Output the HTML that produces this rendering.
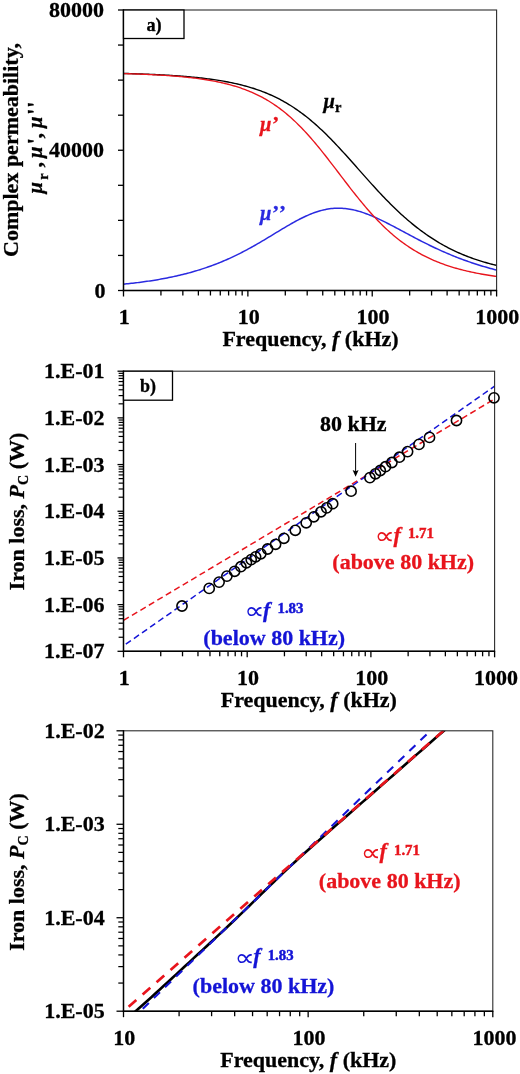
<!DOCTYPE html>
<html lang="en"><head><meta charset="utf-8"><title>Complex permeability and iron loss</title>
<style>
html,body{margin:0;padding:0;background:#fff;}
body{width:520px;height:1074px;overflow:hidden;}
svg{display:block;}
svg text{font-family:"Liberation Serif", "DejaVu Serif", serif;font-weight:bold;}
.it{font-style:italic;}
</style></head><body>
<svg width="520" height="1074" viewBox="0 0 520 1074">
<rect x="0" y="0" width="520" height="1074" fill="#fff"/>
<g id="plot-a">
<path d="M123.50 73.44 L125.06 73.49 L126.62 73.53 L128.18 73.57 L129.74 73.62 L131.31 73.67 L132.87 73.71 L134.43 73.76 L135.99 73.82 L137.55 73.87 L139.11 73.92 L140.67 73.98 L142.23 74.04 L143.79 74.09 L145.36 74.16 L146.92 74.22 L148.48 74.28 L150.04 74.35 L151.60 74.42 L153.16 74.49 L154.72 74.56 L156.28 74.63 L157.84 74.71 L159.41 74.79 L160.97 74.87 L162.53 74.95 L164.09 75.03 L165.65 75.12 L167.21 75.21 L168.77 75.31 L170.33 75.40 L171.89 75.50 L173.45 75.60 L175.02 75.71 L176.58 75.82 L178.14 75.93 L179.70 76.04 L181.26 76.16 L182.82 76.28 L184.38 76.41 L185.94 76.54 L187.50 76.67 L189.07 76.81 L190.63 76.95 L192.19 77.09 L193.75 77.24 L195.31 77.40 L196.87 77.56 L198.43 77.72 L199.99 77.89 L201.55 78.07 L203.12 78.25 L204.68 78.43 L206.24 78.63 L207.80 78.82 L209.36 79.03 L210.92 79.24 L212.48 79.46 L214.04 79.68 L215.60 79.91 L217.17 80.15 L218.73 80.39 L220.29 80.65 L221.85 80.91 L223.41 81.18 L224.97 81.46 L226.53 81.75 L228.09 82.04 L229.65 82.35 L231.22 82.66 L232.78 82.99 L234.34 83.33 L235.90 83.67 L237.46 84.03 L239.02 84.40 L240.58 84.78 L242.14 85.17 L243.70 85.58 L245.26 86.00 L246.83 86.43 L248.39 86.87 L249.95 87.33 L251.51 87.80 L253.07 88.29 L254.63 88.79 L256.19 89.31 L257.75 89.85 L259.31 90.40 L260.88 90.96 L262.44 91.55 L264.00 92.15 L265.56 92.77 L267.12 93.41 L268.68 94.07 L270.24 94.74 L271.80 95.44 L273.36 96.16 L274.93 96.90 L276.49 97.66 L278.05 98.44 L279.61 99.24 L281.17 100.06 L282.73 100.91 L284.29 101.78 L285.85 102.68 L287.41 103.59 L288.98 104.54 L290.54 105.50 L292.10 106.49 L293.66 107.51 L295.22 108.55 L296.78 109.61 L298.34 110.70 L299.90 111.82 L301.46 112.96 L303.03 114.13 L304.59 115.32 L306.15 116.54 L307.71 117.79 L309.27 119.06 L310.83 120.35 L312.39 121.67 L313.95 123.02 L315.51 124.39 L317.07 125.78 L318.64 127.20 L320.20 128.64 L321.76 130.10 L323.32 131.59 L324.88 133.10 L326.44 134.62 L328.00 136.17 L329.56 137.74 L331.12 139.33 L332.69 140.94 L334.25 142.56 L335.81 144.21 L337.37 145.86 L338.93 147.53 L340.49 149.22 L342.05 150.91 L343.61 152.62 L345.17 154.34 L346.74 156.07 L348.30 157.81 L349.86 159.55 L351.42 161.30 L352.98 163.06 L354.54 164.82 L356.10 166.58 L357.66 168.35 L359.22 170.11 L360.79 171.87 L362.35 173.64 L363.91 175.40 L365.47 177.15 L367.03 178.90 L368.59 180.65 L370.15 182.38 L371.71 184.11 L373.27 185.83 L374.84 187.54 L376.40 189.24 L377.96 190.93 L379.52 192.61 L381.08 194.27 L382.64 195.92 L384.20 197.55 L385.76 199.17 L387.32 200.77 L388.88 202.36 L390.45 203.93 L392.01 205.48 L393.57 207.01 L395.13 208.53 L396.69 210.02 L398.25 211.50 L399.81 212.95 L401.37 214.39 L402.93 215.81 L404.50 217.20 L406.06 218.58 L407.62 219.93 L409.18 221.27 L410.74 222.58 L412.30 223.87 L413.86 225.14 L415.42 226.38 L416.98 227.61 L418.55 228.82 L420.11 230.00 L421.67 231.16 L423.23 232.30 L424.79 233.42 L426.35 234.52 L427.91 235.60 L429.47 236.65 L431.03 237.69 L432.60 238.71 L434.16 239.70 L435.72 240.67 L437.28 241.63 L438.84 242.56 L440.40 243.48 L441.96 244.37 L443.52 245.25 L445.08 246.11 L446.65 246.95 L448.21 247.77 L449.77 248.57 L451.33 249.35 L452.89 250.12 L454.45 250.86 L456.01 251.60 L457.57 252.31 L459.13 253.01 L460.69 253.69 L462.26 254.35 L463.82 255.00 L465.38 255.63 L466.94 256.25 L468.50 256.85 L470.06 257.44 L471.62 258.01 L473.18 258.56 L474.74 259.11 L476.31 259.64 L477.87 260.15 L479.43 260.65 L480.99 261.14 L482.55 261.62 L484.11 262.08 L485.67 262.53 L487.23 262.97 L488.79 263.40 L490.36 263.81 L491.92 264.22 L493.48 264.61 L495.04 264.99 L496.60 265.36" fill="none" stroke="#000" stroke-width="1.4" stroke-linejoin="round" />
<path d="M123.50 284.20 L125.06 284.04 L126.62 283.87 L128.18 283.71 L129.74 283.54 L131.31 283.36 L132.87 283.18 L134.43 283.00 L135.99 282.81 L137.55 282.62 L139.11 282.42 L140.67 282.22 L142.23 282.01 L143.79 281.80 L145.36 281.58 L146.92 281.36 L148.48 281.13 L150.04 280.89 L151.60 280.65 L153.16 280.41 L154.72 280.16 L156.28 279.90 L157.84 279.64 L159.41 279.37 L160.97 279.09 L162.53 278.81 L164.09 278.52 L165.65 278.22 L167.21 277.92 L168.77 277.61 L170.33 277.29 L171.89 276.96 L173.45 276.63 L175.02 276.29 L176.58 275.94 L178.14 275.59 L179.70 275.22 L181.26 274.85 L182.82 274.47 L184.38 274.08 L185.94 273.68 L187.50 273.27 L189.07 272.85 L190.63 272.42 L192.19 271.99 L193.75 271.54 L195.31 271.09 L196.87 270.62 L198.43 270.15 L199.99 269.66 L201.55 269.16 L203.12 268.66 L204.68 268.14 L206.24 267.61 L207.80 267.07 L209.36 266.52 L210.92 265.96 L212.48 265.39 L214.04 264.80 L215.60 264.21 L217.17 263.60 L218.73 262.98 L220.29 262.35 L221.85 261.71 L223.41 261.05 L224.97 260.39 L226.53 259.71 L228.09 259.02 L229.65 258.31 L231.22 257.60 L232.78 256.87 L234.34 256.13 L235.90 255.38 L237.46 254.62 L239.02 253.84 L240.58 253.06 L242.14 252.26 L243.70 251.45 L245.26 250.63 L246.83 249.80 L248.39 248.96 L249.95 248.10 L251.51 247.24 L253.07 246.37 L254.63 245.49 L256.19 244.60 L257.75 243.70 L259.31 242.79 L260.88 241.88 L262.44 240.96 L264.00 240.03 L265.56 239.10 L267.12 238.16 L268.68 237.22 L270.24 236.28 L271.80 235.33 L273.36 234.38 L274.93 233.43 L276.49 232.48 L278.05 231.54 L279.61 230.59 L281.17 229.65 L282.73 228.71 L284.29 227.78 L285.85 226.85 L287.41 225.94 L288.98 225.03 L290.54 224.13 L292.10 223.24 L293.66 222.37 L295.22 221.51 L296.78 220.67 L298.34 219.84 L299.90 219.04 L301.46 218.25 L303.03 217.48 L304.59 216.74 L306.15 216.02 L307.71 215.32 L309.27 214.65 L310.83 214.01 L312.39 213.39 L313.95 212.81 L315.51 212.26 L317.07 211.74 L318.64 211.25 L320.20 210.79 L321.76 210.37 L323.32 209.99 L324.88 209.64 L326.44 209.33 L328.00 209.05 L329.56 208.81 L331.12 208.61 L332.69 208.45 L334.25 208.33 L335.81 208.24 L337.37 208.20 L338.93 208.19 L340.49 208.22 L342.05 208.28 L343.61 208.39 L345.17 208.53 L346.74 208.71 L348.30 208.92 L349.86 209.17 L351.42 209.46 L352.98 209.78 L354.54 210.13 L356.10 210.51 L357.66 210.92 L359.22 211.37 L360.79 211.84 L362.35 212.34 L363.91 212.87 L365.47 213.42 L367.03 214.00 L368.59 214.60 L370.15 215.22 L371.71 215.86 L373.27 216.53 L374.84 217.21 L376.40 217.91 L377.96 218.63 L379.52 219.36 L381.08 220.11 L382.64 220.86 L384.20 221.64 L385.76 222.42 L387.32 223.21 L388.88 224.01 L390.45 224.81 L392.01 225.63 L393.57 226.45 L395.13 227.27 L396.69 228.10 L398.25 228.93 L399.81 229.77 L401.37 230.60 L402.93 231.44 L404.50 232.28 L406.06 233.11 L407.62 233.95 L409.18 234.78 L410.74 235.61 L412.30 236.44 L413.86 237.26 L415.42 238.08 L416.98 238.90 L418.55 239.71 L420.11 240.51 L421.67 241.31 L423.23 242.11 L424.79 242.89 L426.35 243.67 L427.91 244.45 L429.47 245.21 L431.03 245.97 L432.60 246.72 L434.16 247.47 L435.72 248.20 L437.28 248.93 L438.84 249.65 L440.40 250.36 L441.96 251.06 L443.52 251.75 L445.08 252.43 L446.65 253.11 L448.21 253.77 L449.77 254.43 L451.33 255.08 L452.89 255.72 L454.45 256.35 L456.01 256.97 L457.57 257.58 L459.13 258.18 L460.69 258.78 L462.26 259.36 L463.82 259.94 L465.38 260.50 L466.94 261.06 L468.50 261.61 L470.06 262.15 L471.62 262.68 L473.18 263.21 L474.74 263.72 L476.31 264.23 L477.87 264.73 L479.43 265.21 L480.99 265.70 L482.55 266.17 L484.11 266.63 L485.67 267.09 L487.23 267.54 L488.79 267.98 L490.36 268.41 L491.92 268.84 L493.48 269.26 L495.04 269.67 L496.60 270.07" fill="none" stroke="#2a2ae0" stroke-width="1.5" stroke-linejoin="round" />
<path d="M123.50 73.57 L125.06 73.61 L126.62 73.66 L128.18 73.71 L129.74 73.76 L131.31 73.81 L132.87 73.86 L134.43 73.92 L135.99 73.97 L137.55 74.03 L139.11 74.09 L140.67 74.15 L142.23 74.22 L143.79 74.28 L145.36 74.35 L146.92 74.42 L148.48 74.49 L150.04 74.56 L151.60 74.64 L153.16 74.72 L154.72 74.80 L156.28 74.89 L157.84 74.97 L159.41 75.06 L160.97 75.16 L162.53 75.25 L164.09 75.35 L165.65 75.45 L167.21 75.56 L168.77 75.67 L170.33 75.78 L171.89 75.90 L173.45 76.02 L175.02 76.14 L176.58 76.27 L178.14 76.40 L179.70 76.54 L181.26 76.68 L182.82 76.83 L184.38 76.98 L185.94 77.14 L187.50 77.30 L189.07 77.47 L190.63 77.65 L192.19 77.83 L193.75 78.01 L195.31 78.20 L196.87 78.40 L198.43 78.61 L199.99 78.82 L201.55 79.05 L203.12 79.27 L204.68 79.51 L206.24 79.76 L207.80 80.01 L209.36 80.27 L210.92 80.55 L212.48 80.83 L214.04 81.12 L215.60 81.42 L217.17 81.73 L218.73 82.06 L220.29 82.39 L221.85 82.74 L223.41 83.10 L224.97 83.47 L226.53 83.85 L228.09 84.25 L229.65 84.66 L231.22 85.09 L232.78 85.53 L234.34 85.99 L235.90 86.46 L237.46 86.95 L239.02 87.45 L240.58 87.98 L242.14 88.52 L243.70 89.08 L245.26 89.66 L246.83 90.26 L248.39 90.88 L249.95 91.52 L251.51 92.18 L253.07 92.86 L254.63 93.57 L256.19 94.30 L257.75 95.05 L259.31 95.83 L260.88 96.63 L262.44 97.46 L264.00 98.31 L265.56 99.19 L267.12 100.10 L268.68 101.04 L270.24 102.00 L271.80 102.99 L273.36 104.02 L274.93 105.07 L276.49 106.15 L278.05 107.27 L279.61 108.41 L281.17 109.59 L282.73 110.80 L284.29 112.04 L285.85 113.31 L287.41 114.61 L288.98 115.95 L290.54 117.32 L292.10 118.72 L293.66 120.16 L295.22 121.63 L296.78 123.13 L298.34 124.66 L299.90 126.22 L301.46 127.82 L303.03 129.45 L304.59 131.10 L306.15 132.79 L307.71 134.51 L309.27 136.25 L310.83 138.02 L312.39 139.82 L313.95 141.65 L315.51 143.50 L317.07 145.37 L318.64 147.26 L320.20 149.18 L321.76 151.11 L323.32 153.07 L324.88 155.04 L326.44 157.03 L328.00 159.03 L329.56 161.04 L331.12 163.06 L332.69 165.09 L334.25 167.13 L335.81 169.18 L337.37 171.23 L338.93 173.28 L340.49 175.33 L342.05 177.38 L343.61 179.42 L345.17 181.47 L346.74 183.50 L348.30 185.53 L349.86 187.55 L351.42 189.55 L352.98 191.55 L354.54 193.53 L356.10 195.49 L357.66 197.44 L359.22 199.37 L360.79 201.28 L362.35 203.17 L363.91 205.03 L365.47 206.88 L367.03 208.70 L368.59 210.49 L370.15 212.26 L371.71 214.00 L373.27 215.72 L374.84 217.41 L376.40 219.07 L377.96 220.70 L379.52 222.30 L381.08 223.88 L382.64 225.42 L384.20 226.94 L385.76 228.42 L387.32 229.87 L388.88 231.30 L390.45 232.69 L392.01 234.05 L393.57 235.39 L395.13 236.69 L396.69 237.96 L398.25 239.21 L399.81 240.42 L401.37 241.61 L402.93 242.76 L404.50 243.89 L406.06 244.99 L407.62 246.07 L409.18 247.11 L410.74 248.13 L412.30 249.12 L413.86 250.09 L415.42 251.03 L416.98 251.95 L418.55 252.84 L420.11 253.71 L421.67 254.56 L423.23 255.38 L424.79 256.18 L426.35 256.96 L427.91 257.72 L429.47 258.45 L431.03 259.17 L432.60 259.86 L434.16 260.54 L435.72 261.20 L437.28 261.84 L438.84 262.46 L440.40 263.06 L441.96 263.65 L443.52 264.22 L445.08 264.77 L446.65 265.31 L448.21 265.84 L449.77 266.34 L451.33 266.84 L452.89 267.32 L454.45 267.78 L456.01 268.24 L457.57 268.68 L459.13 269.11 L460.69 269.52 L462.26 269.93 L463.82 270.32 L465.38 270.70 L466.94 271.07 L468.50 271.43 L470.06 271.78 L471.62 272.12 L473.18 272.45 L474.74 272.77 L476.31 273.09 L477.87 273.39 L479.43 273.68 L480.99 273.97 L482.55 274.25 L484.11 274.52 L485.67 274.79 L487.23 275.04 L488.79 275.29 L490.36 275.53 L491.92 275.77 L493.48 276.00 L495.04 276.22 L496.60 276.44" fill="none" stroke="#e8141c" stroke-width="1.35" stroke-linejoin="round" />
<rect x="123.5" y="10.0" width="373.10" height="280.50" fill="none" stroke="#2c2c2c" stroke-width="1.1"/>
<line x1="123.50" y1="9.50" x2="123.50" y2="291.20" stroke="#000" stroke-width="1.45" />
<line x1="122.80" y1="290.50" x2="497.10" y2="290.50" stroke="#000" stroke-width="1.45" />
<line x1="118.00" y1="290.50" x2="123.50" y2="290.50" stroke="#000" stroke-width="1.3" />
<line x1="118.00" y1="255.44" x2="123.50" y2="255.44" stroke="#000" stroke-width="1.3" />
<line x1="118.00" y1="220.38" x2="123.50" y2="220.38" stroke="#000" stroke-width="1.3" />
<line x1="118.00" y1="185.31" x2="123.50" y2="185.31" stroke="#000" stroke-width="1.3" />
<line x1="118.00" y1="150.25" x2="123.50" y2="150.25" stroke="#000" stroke-width="1.3" />
<line x1="118.00" y1="115.19" x2="123.50" y2="115.19" stroke="#000" stroke-width="1.3" />
<line x1="118.00" y1="80.12" x2="123.50" y2="80.12" stroke="#000" stroke-width="1.3" />
<line x1="118.00" y1="45.06" x2="123.50" y2="45.06" stroke="#000" stroke-width="1.3" />
<line x1="118.00" y1="10.00" x2="123.50" y2="10.00" stroke="#000" stroke-width="1.3" />
<line x1="123.50" y1="290.50" x2="123.50" y2="296.50" stroke="#000" stroke-width="1.3" />
<line x1="160.94" y1="290.50" x2="160.94" y2="295.50" stroke="#000" stroke-width="1.3" />
<line x1="182.84" y1="290.50" x2="182.84" y2="295.50" stroke="#000" stroke-width="1.3" />
<line x1="198.38" y1="290.50" x2="198.38" y2="295.50" stroke="#000" stroke-width="1.3" />
<line x1="210.43" y1="290.50" x2="210.43" y2="295.50" stroke="#000" stroke-width="1.3" />
<line x1="220.28" y1="290.50" x2="220.28" y2="295.50" stroke="#000" stroke-width="1.3" />
<line x1="228.60" y1="290.50" x2="228.60" y2="295.50" stroke="#000" stroke-width="1.3" />
<line x1="235.81" y1="290.50" x2="235.81" y2="295.50" stroke="#000" stroke-width="1.3" />
<line x1="242.18" y1="290.50" x2="242.18" y2="295.50" stroke="#000" stroke-width="1.3" />
<line x1="247.87" y1="290.50" x2="247.87" y2="296.50" stroke="#000" stroke-width="1.3" />
<line x1="285.30" y1="290.50" x2="285.30" y2="295.50" stroke="#000" stroke-width="1.3" />
<line x1="307.20" y1="290.50" x2="307.20" y2="295.50" stroke="#000" stroke-width="1.3" />
<line x1="322.74" y1="290.50" x2="322.74" y2="295.50" stroke="#000" stroke-width="1.3" />
<line x1="334.80" y1="290.50" x2="334.80" y2="295.50" stroke="#000" stroke-width="1.3" />
<line x1="344.64" y1="290.50" x2="344.64" y2="295.50" stroke="#000" stroke-width="1.3" />
<line x1="352.97" y1="290.50" x2="352.97" y2="295.50" stroke="#000" stroke-width="1.3" />
<line x1="360.18" y1="290.50" x2="360.18" y2="295.50" stroke="#000" stroke-width="1.3" />
<line x1="366.54" y1="290.50" x2="366.54" y2="295.50" stroke="#000" stroke-width="1.3" />
<line x1="372.23" y1="290.50" x2="372.23" y2="296.50" stroke="#000" stroke-width="1.3" />
<line x1="409.67" y1="290.50" x2="409.67" y2="295.50" stroke="#000" stroke-width="1.3" />
<line x1="431.57" y1="290.50" x2="431.57" y2="295.50" stroke="#000" stroke-width="1.3" />
<line x1="447.11" y1="290.50" x2="447.11" y2="295.50" stroke="#000" stroke-width="1.3" />
<line x1="459.16" y1="290.50" x2="459.16" y2="295.50" stroke="#000" stroke-width="1.3" />
<line x1="469.01" y1="290.50" x2="469.01" y2="295.50" stroke="#000" stroke-width="1.3" />
<line x1="477.34" y1="290.50" x2="477.34" y2="295.50" stroke="#000" stroke-width="1.3" />
<line x1="484.55" y1="290.50" x2="484.55" y2="295.50" stroke="#000" stroke-width="1.3" />
<line x1="490.91" y1="290.50" x2="490.91" y2="295.50" stroke="#000" stroke-width="1.3" />
<line x1="496.60" y1="290.50" x2="496.60" y2="296.50" stroke="#000" stroke-width="1.3" />
<rect x="123.5" y="10.0" width="60.5" height="28.5" fill="#fff" stroke="#000" stroke-width="1.3"/>
<text x="154.10" y="30.50" font-size="18.3" text-anchor="middle" fill="#000" stroke="#000" stroke-width="0.3" >a)</text>
<text x="104.00" y="17.20" font-size="22.0" text-anchor="end" fill="#000" stroke="#000" stroke-width="0.3" >80000</text>
<text x="104.00" y="157.45" font-size="22.0" text-anchor="end" fill="#000" stroke="#000" stroke-width="0.3" >40000</text>
<text x="105.50" y="297.70" font-size="22.0" text-anchor="end" fill="#000" stroke="#000" stroke-width="0.3" >0</text>
<text x="124.30" y="324.30" font-size="22.0" text-anchor="middle" fill="#000" stroke="#000" stroke-width="0.3" >1</text>
<text x="248.67" y="324.30" font-size="22.0" text-anchor="middle" fill="#000" stroke="#000" stroke-width="0.3" >10</text>
<text x="373.03" y="324.30" font-size="22.0" text-anchor="middle" fill="#000" stroke="#000" stroke-width="0.3" >100</text>
<text x="519.30" y="324.30" font-size="22.0" text-anchor="end" fill="#000" stroke="#000" stroke-width="0.3" >1000</text>
<text x="310.50" y="346.40" font-size="22.0" text-anchor="middle" fill="#000" stroke="#000" stroke-width="0.3" >Frequency, <tspan class="it">f</tspan> (kHz)</text>
<text transform="translate(17.6 150) rotate(-90)" stroke="#000" stroke-width="0.3" font-size="22.0" text-anchor="middle">Complex permeability,</text>
<text transform="translate(41.6 193.6) rotate(-90)" stroke="#000" stroke-width="0.3" font-size="22.0"><tspan class="it" font-size="20.5" x="0">μ</tspan><tspan font-size="14.5" x="13.8" dy="6">r</tspan><tspan x="26" dy="-6">,</tspan><tspan class="it" font-size="20.5" x="35.6">μ</tspan><tspan x="49.0" dy="1" font-size="24">'</tspan><tspan x="55.2" dy="-1">,</tspan><tspan class="it" font-size="20.5" x="65.6">μ</tspan><tspan x="78.6" dy="1" font-size="24" letter-spacing="0.3">''</tspan></text>
<text x="323.50" y="107.80" font-size="22.0" text-anchor="start" fill="#000" stroke="#000" stroke-width="0.3" ><tspan class="it" font-size="20.5">μ</tspan><tspan font-size="14.5" dy="4.5">r</tspan></text>
<text x="260.00" y="131.20" font-size="22.0" text-anchor="start" fill="#e8141c" stroke="#e8141c" stroke-width="0.3" ><tspan class="it" font-size="20.5">μ</tspan><tspan dx="0.5">’</tspan></text>
<text x="260.00" y="220.20" font-size="22.0" text-anchor="start" fill="#2a2ae0" stroke="#2a2ae0" stroke-width="0.3" ><tspan class="it" font-size="20.5">μ</tspan><tspan dx="0.5" letter-spacing="1.2">’’</tspan></text>
</g>
<g id="plot-b">
<clipPath id="c2"><rect x="123.5" y="371.2" width="371.10" height="280.10"/></clipPath>
<line x1="123.50" y1="620.40" x2="494.60" y2="399.00" stroke="#e8141c" stroke-width="1.5" stroke-dasharray="6.2 3.65"/>
<line x1="123.50" y1="645.80" x2="494.60" y2="386.20" stroke="#1414d6" stroke-width="1.5" stroke-dasharray="6.2 3.7" stroke-dashoffset="7.1"/>
<rect x="123.5" y="371.2" width="371.10" height="280.10" fill="none" stroke="#2c2c2c" stroke-width="1.1"/>
<line x1="123.50" y1="370.70" x2="123.50" y2="652.00" stroke="#000" stroke-width="1.45" />
<line x1="122.80" y1="651.30" x2="495.10" y2="651.30" stroke="#000" stroke-width="1.45" />
<line x1="117.50" y1="651.30" x2="123.50" y2="651.30" stroke="#000" stroke-width="1.3" />
<line x1="118.60" y1="637.25" x2="123.50" y2="637.25" stroke="#000" stroke-width="1.2" />
<line x1="118.60" y1="629.03" x2="123.50" y2="629.03" stroke="#000" stroke-width="1.2" />
<line x1="118.60" y1="623.19" x2="123.50" y2="623.19" stroke="#000" stroke-width="1.2" />
<line x1="118.60" y1="618.67" x2="123.50" y2="618.67" stroke="#000" stroke-width="1.2" />
<line x1="118.60" y1="614.97" x2="123.50" y2="614.97" stroke="#000" stroke-width="1.2" />
<line x1="118.60" y1="611.85" x2="123.50" y2="611.85" stroke="#000" stroke-width="1.2" />
<line x1="118.60" y1="609.14" x2="123.50" y2="609.14" stroke="#000" stroke-width="1.2" />
<line x1="118.60" y1="606.75" x2="123.50" y2="606.75" stroke="#000" stroke-width="1.2" />
<line x1="117.50" y1="604.62" x2="123.50" y2="604.62" stroke="#000" stroke-width="1.3" />
<line x1="118.60" y1="590.56" x2="123.50" y2="590.56" stroke="#000" stroke-width="1.2" />
<line x1="118.60" y1="582.34" x2="123.50" y2="582.34" stroke="#000" stroke-width="1.2" />
<line x1="118.60" y1="576.51" x2="123.50" y2="576.51" stroke="#000" stroke-width="1.2" />
<line x1="118.60" y1="571.99" x2="123.50" y2="571.99" stroke="#000" stroke-width="1.2" />
<line x1="118.60" y1="568.29" x2="123.50" y2="568.29" stroke="#000" stroke-width="1.2" />
<line x1="118.60" y1="565.16" x2="123.50" y2="565.16" stroke="#000" stroke-width="1.2" />
<line x1="118.60" y1="562.46" x2="123.50" y2="562.46" stroke="#000" stroke-width="1.2" />
<line x1="118.60" y1="560.07" x2="123.50" y2="560.07" stroke="#000" stroke-width="1.2" />
<line x1="117.50" y1="557.93" x2="123.50" y2="557.93" stroke="#000" stroke-width="1.3" />
<line x1="118.60" y1="543.88" x2="123.50" y2="543.88" stroke="#000" stroke-width="1.2" />
<line x1="118.60" y1="535.66" x2="123.50" y2="535.66" stroke="#000" stroke-width="1.2" />
<line x1="118.60" y1="529.83" x2="123.50" y2="529.83" stroke="#000" stroke-width="1.2" />
<line x1="118.60" y1="525.30" x2="123.50" y2="525.30" stroke="#000" stroke-width="1.2" />
<line x1="118.60" y1="521.61" x2="123.50" y2="521.61" stroke="#000" stroke-width="1.2" />
<line x1="118.60" y1="518.48" x2="123.50" y2="518.48" stroke="#000" stroke-width="1.2" />
<line x1="118.60" y1="515.77" x2="123.50" y2="515.77" stroke="#000" stroke-width="1.2" />
<line x1="118.60" y1="513.39" x2="123.50" y2="513.39" stroke="#000" stroke-width="1.2" />
<line x1="117.50" y1="511.25" x2="123.50" y2="511.25" stroke="#000" stroke-width="1.3" />
<line x1="118.60" y1="497.20" x2="123.50" y2="497.20" stroke="#000" stroke-width="1.2" />
<line x1="118.60" y1="488.98" x2="123.50" y2="488.98" stroke="#000" stroke-width="1.2" />
<line x1="118.60" y1="483.14" x2="123.50" y2="483.14" stroke="#000" stroke-width="1.2" />
<line x1="118.60" y1="478.62" x2="123.50" y2="478.62" stroke="#000" stroke-width="1.2" />
<line x1="118.60" y1="474.92" x2="123.50" y2="474.92" stroke="#000" stroke-width="1.2" />
<line x1="118.60" y1="471.80" x2="123.50" y2="471.80" stroke="#000" stroke-width="1.2" />
<line x1="118.60" y1="469.09" x2="123.50" y2="469.09" stroke="#000" stroke-width="1.2" />
<line x1="118.60" y1="466.70" x2="123.50" y2="466.70" stroke="#000" stroke-width="1.2" />
<line x1="117.50" y1="464.57" x2="123.50" y2="464.57" stroke="#000" stroke-width="1.3" />
<line x1="118.60" y1="450.51" x2="123.50" y2="450.51" stroke="#000" stroke-width="1.2" />
<line x1="118.60" y1="442.29" x2="123.50" y2="442.29" stroke="#000" stroke-width="1.2" />
<line x1="118.60" y1="436.46" x2="123.50" y2="436.46" stroke="#000" stroke-width="1.2" />
<line x1="118.60" y1="431.94" x2="123.50" y2="431.94" stroke="#000" stroke-width="1.2" />
<line x1="118.60" y1="428.24" x2="123.50" y2="428.24" stroke="#000" stroke-width="1.2" />
<line x1="118.60" y1="425.11" x2="123.50" y2="425.11" stroke="#000" stroke-width="1.2" />
<line x1="118.60" y1="422.41" x2="123.50" y2="422.41" stroke="#000" stroke-width="1.2" />
<line x1="118.60" y1="420.02" x2="123.50" y2="420.02" stroke="#000" stroke-width="1.2" />
<line x1="117.50" y1="417.88" x2="123.50" y2="417.88" stroke="#000" stroke-width="1.3" />
<line x1="118.60" y1="403.83" x2="123.50" y2="403.83" stroke="#000" stroke-width="1.2" />
<line x1="118.60" y1="395.61" x2="123.50" y2="395.61" stroke="#000" stroke-width="1.2" />
<line x1="118.60" y1="389.78" x2="123.50" y2="389.78" stroke="#000" stroke-width="1.2" />
<line x1="118.60" y1="385.25" x2="123.50" y2="385.25" stroke="#000" stroke-width="1.2" />
<line x1="118.60" y1="381.56" x2="123.50" y2="381.56" stroke="#000" stroke-width="1.2" />
<line x1="118.60" y1="378.43" x2="123.50" y2="378.43" stroke="#000" stroke-width="1.2" />
<line x1="118.60" y1="375.72" x2="123.50" y2="375.72" stroke="#000" stroke-width="1.2" />
<line x1="118.60" y1="373.34" x2="123.50" y2="373.34" stroke="#000" stroke-width="1.2" />
<line x1="117.50" y1="371.20" x2="123.50" y2="371.20" stroke="#000" stroke-width="1.3" />
<line x1="123.50" y1="651.30" x2="123.50" y2="657.30" stroke="#000" stroke-width="1.3" />
<line x1="160.74" y1="651.30" x2="160.74" y2="656.30" stroke="#000" stroke-width="1.3" />
<line x1="182.52" y1="651.30" x2="182.52" y2="656.30" stroke="#000" stroke-width="1.3" />
<line x1="197.97" y1="651.30" x2="197.97" y2="656.30" stroke="#000" stroke-width="1.3" />
<line x1="209.96" y1="651.30" x2="209.96" y2="656.30" stroke="#000" stroke-width="1.3" />
<line x1="219.76" y1="651.30" x2="219.76" y2="656.30" stroke="#000" stroke-width="1.3" />
<line x1="228.04" y1="651.30" x2="228.04" y2="656.30" stroke="#000" stroke-width="1.3" />
<line x1="235.21" y1="651.30" x2="235.21" y2="656.30" stroke="#000" stroke-width="1.3" />
<line x1="241.54" y1="651.30" x2="241.54" y2="656.30" stroke="#000" stroke-width="1.3" />
<line x1="247.20" y1="651.30" x2="247.20" y2="657.30" stroke="#000" stroke-width="1.3" />
<line x1="284.44" y1="651.30" x2="284.44" y2="656.30" stroke="#000" stroke-width="1.3" />
<line x1="306.22" y1="651.30" x2="306.22" y2="656.30" stroke="#000" stroke-width="1.3" />
<line x1="321.67" y1="651.30" x2="321.67" y2="656.30" stroke="#000" stroke-width="1.3" />
<line x1="333.66" y1="651.30" x2="333.66" y2="656.30" stroke="#000" stroke-width="1.3" />
<line x1="343.46" y1="651.30" x2="343.46" y2="656.30" stroke="#000" stroke-width="1.3" />
<line x1="351.74" y1="651.30" x2="351.74" y2="656.30" stroke="#000" stroke-width="1.3" />
<line x1="358.91" y1="651.30" x2="358.91" y2="656.30" stroke="#000" stroke-width="1.3" />
<line x1="365.24" y1="651.30" x2="365.24" y2="656.30" stroke="#000" stroke-width="1.3" />
<line x1="370.90" y1="651.30" x2="370.90" y2="657.30" stroke="#000" stroke-width="1.3" />
<line x1="408.14" y1="651.30" x2="408.14" y2="656.30" stroke="#000" stroke-width="1.3" />
<line x1="429.92" y1="651.30" x2="429.92" y2="656.30" stroke="#000" stroke-width="1.3" />
<line x1="445.37" y1="651.30" x2="445.37" y2="656.30" stroke="#000" stroke-width="1.3" />
<line x1="457.36" y1="651.30" x2="457.36" y2="656.30" stroke="#000" stroke-width="1.3" />
<line x1="467.16" y1="651.30" x2="467.16" y2="656.30" stroke="#000" stroke-width="1.3" />
<line x1="475.44" y1="651.30" x2="475.44" y2="656.30" stroke="#000" stroke-width="1.3" />
<line x1="482.61" y1="651.30" x2="482.61" y2="656.30" stroke="#000" stroke-width="1.3" />
<line x1="488.94" y1="651.30" x2="488.94" y2="656.30" stroke="#000" stroke-width="1.3" />
<line x1="494.60" y1="651.30" x2="494.60" y2="657.30" stroke="#000" stroke-width="1.3" />
<rect x="123.5" y="371.2" width="49" height="29" fill="#fff" stroke="#000" stroke-width="1.3"/>
<text x="148.00" y="392.20" font-size="18" text-anchor="middle" fill="#000" stroke="#000" stroke-width="0.3" >b)</text>
<circle cx="182" cy="606" r="5.1" fill="none" stroke="#000" stroke-width="1.6"/>
<circle cx="209.2" cy="588.4" r="5.1" fill="none" stroke="#000" stroke-width="1.6"/>
<circle cx="219.1" cy="582.1" r="5.1" fill="none" stroke="#000" stroke-width="1.6"/>
<circle cx="226.9" cy="576.1" r="5.1" fill="none" stroke="#000" stroke-width="1.6"/>
<circle cx="234.6" cy="571.3" r="5.1" fill="none" stroke="#000" stroke-width="1.6"/>
<circle cx="240.9" cy="566.7" r="5.1" fill="none" stroke="#000" stroke-width="1.6"/>
<circle cx="246.4" cy="562.8" r="5.1" fill="none" stroke="#000" stroke-width="1.6"/>
<circle cx="251.2" cy="559.6" r="5.1" fill="none" stroke="#000" stroke-width="1.6"/>
<circle cx="255.6" cy="556.8" r="5.1" fill="none" stroke="#000" stroke-width="1.6"/>
<circle cx="260.8" cy="553.8" r="5.1" fill="none" stroke="#000" stroke-width="1.6"/>
<circle cx="267.6" cy="549" r="5.1" fill="none" stroke="#000" stroke-width="1.6"/>
<circle cx="275.6" cy="544.3" r="5.1" fill="none" stroke="#000" stroke-width="1.6"/>
<circle cx="283.9" cy="538.3" r="5.1" fill="none" stroke="#000" stroke-width="1.6"/>
<circle cx="295.3" cy="530.3" r="5.1" fill="none" stroke="#000" stroke-width="1.6"/>
<circle cx="306.2" cy="522.8" r="5.1" fill="none" stroke="#000" stroke-width="1.6"/>
<circle cx="313.8" cy="516.8" r="5.1" fill="none" stroke="#000" stroke-width="1.6"/>
<circle cx="321" cy="511.8" r="5.1" fill="none" stroke="#000" stroke-width="1.6"/>
<circle cx="326.7" cy="507.9" r="5.1" fill="none" stroke="#000" stroke-width="1.6"/>
<circle cx="332.7" cy="503.7" r="5.1" fill="none" stroke="#000" stroke-width="1.6"/>
<circle cx="351.1" cy="491.2" r="5.1" fill="none" stroke="#000" stroke-width="1.6"/>
<circle cx="369.9" cy="477.6" r="5.1" fill="none" stroke="#000" stroke-width="1.6"/>
<circle cx="375.4" cy="473.8" r="5.1" fill="none" stroke="#000" stroke-width="1.6"/>
<circle cx="380.3" cy="470.5" r="5.1" fill="none" stroke="#000" stroke-width="1.6"/>
<circle cx="385.5" cy="466.7" r="5.1" fill="none" stroke="#000" stroke-width="1.6"/>
<circle cx="391.9" cy="462.5" r="5.1" fill="none" stroke="#000" stroke-width="1.6"/>
<circle cx="399.4" cy="457.2" r="5.1" fill="none" stroke="#000" stroke-width="1.6"/>
<circle cx="407.6" cy="451.6" r="5.1" fill="none" stroke="#000" stroke-width="1.6"/>
<circle cx="419" cy="444.4" r="5.1" fill="none" stroke="#000" stroke-width="1.6"/>
<circle cx="429.5" cy="437.4" r="5.1" fill="none" stroke="#000" stroke-width="1.6"/>
<circle cx="456.5" cy="420.5" r="5.1" fill="none" stroke="#000" stroke-width="1.6"/>
<circle cx="494" cy="397.8" r="5.1" fill="none" stroke="#000" stroke-width="1.6"/>
<line x1="355.60" y1="443.00" x2="355.60" y2="472.00" stroke="#000" stroke-width="1.0" />
<path d="M355.6 476.8 L352.6 470.0 L355.6 471.2 L358.6 470.0 Z" fill="#000"/>
<text x="353.30" y="430.60" font-size="22.0" text-anchor="middle" fill="#000" stroke="#000" stroke-width="0.3" >80 kHz</text>
<text x="104.50" y="658.30" font-size="22.0" text-anchor="end" fill="#000" stroke="#000" stroke-width="0.3" >1.E-07</text>
<text x="104.50" y="611.62" font-size="22.0" text-anchor="end" fill="#000" stroke="#000" stroke-width="0.3" >1.E-06</text>
<text x="104.50" y="564.93" font-size="22.0" text-anchor="end" fill="#000" stroke="#000" stroke-width="0.3" >1.E-05</text>
<text x="104.50" y="518.25" font-size="22.0" text-anchor="end" fill="#000" stroke="#000" stroke-width="0.3" >1.E-04</text>
<text x="104.50" y="471.57" font-size="22.0" text-anchor="end" fill="#000" stroke="#000" stroke-width="0.3" >1.E-03</text>
<text x="104.50" y="424.88" font-size="22.0" text-anchor="end" fill="#000" stroke="#000" stroke-width="0.3" >1.E-02</text>
<text x="104.50" y="378.20" font-size="22.0" text-anchor="end" fill="#000" stroke="#000" stroke-width="0.3" >1.E-01</text>
<text x="124.30" y="685.30" font-size="22.0" text-anchor="middle" fill="#000" stroke="#000" stroke-width="0.3" >1</text>
<text x="248.00" y="685.30" font-size="22.0" text-anchor="middle" fill="#000" stroke="#000" stroke-width="0.3" >10</text>
<text x="371.70" y="685.30" font-size="22.0" text-anchor="middle" fill="#000" stroke="#000" stroke-width="0.3" >100</text>
<text x="518.00" y="685.30" font-size="22.0" text-anchor="end" fill="#000" stroke="#000" stroke-width="0.3" >1000</text>
<text x="308.80" y="707.30" font-size="22.0" text-anchor="middle" fill="#000" stroke="#000" stroke-width="0.3" >Frequency, <tspan class="it">f</tspan> (kHz)</text>
<text transform="translate(23.8 511.5) rotate(-90)" stroke="#000" stroke-width="0.3" font-size="22.0" text-anchor="middle">Iron loss, <tspan class="it">P</tspan><tspan font-size="14" dy="4.5">C</tspan><tspan dy="-4.5"> (W)</tspan></text>
<text transform="translate(374.60 543.70) scale(1.16 1)" font-size="24.5" fill="#e8141c" style="font-family:'DejaVu Sans',sans-serif;font-weight:normal">∝</text>
<text x="393.40" y="541.50" font-size="22.0" fill="#e8141c" stroke="#e8141c" stroke-width="0.3" class="it">f</text>
<text x="407.90" y="538.10" font-size="14.8" fill="#e8141c" stroke="#e8141c" stroke-width="0.5">1.71</text>
<text x="403.20" y="569.10" font-size="22.0" text-anchor="middle" fill="#e8141c" stroke="#e8141c" stroke-width="0.3" >(above 80 kHz)</text>
<text transform="translate(244.20 618.70) scale(1.16 1)" font-size="24.5" fill="#1414d6" style="font-family:'DejaVu Sans',sans-serif;font-weight:normal">∝</text>
<text x="263.00" y="616.50" font-size="22.0" fill="#1414d6" stroke="#1414d6" stroke-width="0.3" class="it">f</text>
<text x="277.50" y="613.10" font-size="14.8" fill="#1414d6" stroke="#1414d6" stroke-width="0.5">1.83</text>
<text x="274.20" y="644.70" font-size="22.0" text-anchor="middle" fill="#1414d6" stroke="#1414d6" stroke-width="0.3" >(below 80 kHz)</text>
</g>
<g id="plot-c">
<clipPath id="c3"><rect x="123.5" y="730.8" width="369.30" height="280.40"/></clipPath>
<g clip-path="url(#c3)">
<path d="M126.00 1019.80 L130.23 1016.08 L134.46 1012.35 L138.68 1008.59 L142.91 1004.81 L147.14 1001.01 L151.37 997.18 L155.59 993.33 L159.82 989.46 L164.05 985.58 L168.28 981.68 L172.51 977.77 L176.73 973.85 L180.96 969.93 L185.19 966.00 L189.42 962.08 L193.65 958.16 L197.87 954.25 L202.10 950.34 L206.33 946.43 L210.56 942.51 L214.78 938.58 L219.01 934.64 L223.24 930.69 L227.47 926.72 L231.70 922.72 L235.92 918.70 L240.15 914.65 L244.38 910.58 L248.61 906.47 L252.84 902.36 L257.06 898.23 L261.29 894.09 L265.52 889.96 L269.75 885.85 L273.97 881.74 L278.20 877.67 L282.43 873.62 L286.66 869.62 L290.89 865.66 L295.11 861.75 L299.34 857.89 L303.57 854.07 L307.80 850.27 L312.03 846.49 L316.25 842.74 L320.48 838.99 L324.71 835.26 L328.94 831.54 L333.16 827.83 L337.39 824.12 L341.62 820.41 L345.85 816.70 L350.08 813.00 L354.30 809.29 L358.53 805.58 L362.76 801.88 L366.99 798.17 L371.22 794.46 L375.44 790.75 L379.67 787.04 L383.90 783.33 L388.13 779.62 L392.35 775.91 L396.58 772.20 L400.81 768.49 L405.04 764.78 L409.27 761.07 L413.49 757.35 L417.72 753.64 L421.95 749.93 L426.18 746.22 L430.41 742.51 L434.63 738.81 L438.86 735.10 L443.09 731.40 L447.32 727.70 L451.54 724.00 L455.77 720.30 L460.00 716.60" fill="none" stroke="#000" stroke-width="2.6" stroke-linejoin="round" />
<line x1="141.90" y1="1009.60" x2="427.30" y2="733.70" stroke="#1414d6" stroke-width="2.1" stroke-dasharray="8.45 7.0" stroke-dashoffset="-1.2"/>
<line x1="128.65" y1="1006.68" x2="451.00" y2="724.20" stroke="#e8141c" stroke-width="2.7" stroke-dasharray="10.2 8.36"/>
</g>
<rect x="123.5" y="730.8" width="369.30" height="280.40" fill="none" stroke="#2c2c2c" stroke-width="1.1"/>
<line x1="123.50" y1="730.30" x2="123.50" y2="1011.90" stroke="#000" stroke-width="1.45" />
<line x1="122.80" y1="1011.20" x2="493.30" y2="1011.20" stroke="#000" stroke-width="1.45" />
<line x1="116.50" y1="1011.20" x2="123.50" y2="1011.20" stroke="#000" stroke-width="1.3" />
<line x1="118.30" y1="983.06" x2="123.50" y2="983.06" stroke="#000" stroke-width="1.25" />
<line x1="118.30" y1="966.61" x2="123.50" y2="966.61" stroke="#000" stroke-width="1.25" />
<line x1="118.30" y1="954.93" x2="123.50" y2="954.93" stroke="#000" stroke-width="1.25" />
<line x1="118.30" y1="945.87" x2="123.50" y2="945.87" stroke="#000" stroke-width="1.25" />
<line x1="118.30" y1="938.47" x2="123.50" y2="938.47" stroke="#000" stroke-width="1.25" />
<line x1="118.30" y1="932.21" x2="123.50" y2="932.21" stroke="#000" stroke-width="1.25" />
<line x1="118.30" y1="926.79" x2="123.50" y2="926.79" stroke="#000" stroke-width="1.25" />
<line x1="118.30" y1="922.01" x2="123.50" y2="922.01" stroke="#000" stroke-width="1.25" />
<line x1="116.50" y1="917.73" x2="123.50" y2="917.73" stroke="#000" stroke-width="1.3" />
<line x1="118.30" y1="889.60" x2="123.50" y2="889.60" stroke="#000" stroke-width="1.25" />
<line x1="118.30" y1="873.14" x2="123.50" y2="873.14" stroke="#000" stroke-width="1.25" />
<line x1="118.30" y1="861.46" x2="123.50" y2="861.46" stroke="#000" stroke-width="1.25" />
<line x1="118.30" y1="852.40" x2="123.50" y2="852.40" stroke="#000" stroke-width="1.25" />
<line x1="118.30" y1="845.00" x2="123.50" y2="845.00" stroke="#000" stroke-width="1.25" />
<line x1="118.30" y1="838.74" x2="123.50" y2="838.74" stroke="#000" stroke-width="1.25" />
<line x1="118.30" y1="833.32" x2="123.50" y2="833.32" stroke="#000" stroke-width="1.25" />
<line x1="118.30" y1="828.54" x2="123.50" y2="828.54" stroke="#000" stroke-width="1.25" />
<line x1="116.50" y1="824.27" x2="123.50" y2="824.27" stroke="#000" stroke-width="1.3" />
<line x1="118.30" y1="796.13" x2="123.50" y2="796.13" stroke="#000" stroke-width="1.25" />
<line x1="118.30" y1="779.67" x2="123.50" y2="779.67" stroke="#000" stroke-width="1.25" />
<line x1="118.30" y1="767.99" x2="123.50" y2="767.99" stroke="#000" stroke-width="1.25" />
<line x1="118.30" y1="758.94" x2="123.50" y2="758.94" stroke="#000" stroke-width="1.25" />
<line x1="118.30" y1="751.54" x2="123.50" y2="751.54" stroke="#000" stroke-width="1.25" />
<line x1="118.30" y1="745.28" x2="123.50" y2="745.28" stroke="#000" stroke-width="1.25" />
<line x1="118.30" y1="739.86" x2="123.50" y2="739.86" stroke="#000" stroke-width="1.25" />
<line x1="118.30" y1="735.08" x2="123.50" y2="735.08" stroke="#000" stroke-width="1.25" />
<line x1="116.50" y1="730.80" x2="123.50" y2="730.80" stroke="#000" stroke-width="1.3" />
<line x1="123.50" y1="1011.20" x2="123.50" y2="1017.20" stroke="#000" stroke-width="1.3" />
<line x1="179.09" y1="1011.20" x2="179.09" y2="1016.20" stroke="#000" stroke-width="1.3" />
<line x1="211.60" y1="1011.20" x2="211.60" y2="1016.20" stroke="#000" stroke-width="1.3" />
<line x1="234.67" y1="1011.20" x2="234.67" y2="1016.20" stroke="#000" stroke-width="1.3" />
<line x1="252.56" y1="1011.20" x2="252.56" y2="1016.20" stroke="#000" stroke-width="1.3" />
<line x1="267.19" y1="1011.20" x2="267.19" y2="1016.20" stroke="#000" stroke-width="1.3" />
<line x1="279.55" y1="1011.20" x2="279.55" y2="1016.20" stroke="#000" stroke-width="1.3" />
<line x1="290.26" y1="1011.20" x2="290.26" y2="1016.20" stroke="#000" stroke-width="1.3" />
<line x1="299.70" y1="1011.20" x2="299.70" y2="1016.20" stroke="#000" stroke-width="1.3" />
<line x1="308.15" y1="1011.20" x2="308.15" y2="1017.20" stroke="#000" stroke-width="1.3" />
<line x1="363.74" y1="1011.20" x2="363.74" y2="1016.20" stroke="#000" stroke-width="1.3" />
<line x1="396.25" y1="1011.20" x2="396.25" y2="1016.20" stroke="#000" stroke-width="1.3" />
<line x1="419.32" y1="1011.20" x2="419.32" y2="1016.20" stroke="#000" stroke-width="1.3" />
<line x1="437.21" y1="1011.20" x2="437.21" y2="1016.20" stroke="#000" stroke-width="1.3" />
<line x1="451.84" y1="1011.20" x2="451.84" y2="1016.20" stroke="#000" stroke-width="1.3" />
<line x1="464.20" y1="1011.20" x2="464.20" y2="1016.20" stroke="#000" stroke-width="1.3" />
<line x1="474.91" y1="1011.20" x2="474.91" y2="1016.20" stroke="#000" stroke-width="1.3" />
<line x1="484.35" y1="1011.20" x2="484.35" y2="1016.20" stroke="#000" stroke-width="1.3" />
<line x1="492.80" y1="1011.20" x2="492.80" y2="1017.20" stroke="#000" stroke-width="1.3" />
<text x="104.70" y="1018.20" font-size="22.0" text-anchor="end" fill="#000" stroke="#000" stroke-width="0.3" >1.E-05</text>
<text x="104.70" y="924.73" font-size="22.0" text-anchor="end" fill="#000" stroke="#000" stroke-width="0.3" >1.E-04</text>
<text x="104.70" y="831.27" font-size="22.0" text-anchor="end" fill="#000" stroke="#000" stroke-width="0.3" >1.E-03</text>
<text x="104.70" y="737.80" font-size="22.0" text-anchor="end" fill="#000" stroke="#000" stroke-width="0.3" >1.E-02</text>
<text x="124.30" y="1045.30" font-size="22.0" text-anchor="middle" fill="#000" stroke="#000" stroke-width="0.3" >10</text>
<text x="308.95" y="1045.30" font-size="22.0" text-anchor="middle" fill="#000" stroke="#000" stroke-width="0.3" >100</text>
<text x="516.50" y="1045.30" font-size="22.0" text-anchor="end" fill="#000" stroke="#000" stroke-width="0.3" >1000</text>
<text x="308.30" y="1067.30" font-size="22.0" text-anchor="middle" fill="#000" stroke="#000" stroke-width="0.3" >Frequency, <tspan class="it">f</tspan> (kHz)</text>
<text transform="translate(23.7 872) rotate(-90)" stroke="#000" stroke-width="0.3" font-size="22.0" text-anchor="middle">Iron loss, <tspan class="it">P</tspan><tspan font-size="14" dy="4.5">C</tspan><tspan dy="-4.5"> (W)</tspan></text>
<text transform="translate(360.70 860.50) scale(1.16 1)" font-size="24.5" fill="#e8141c" style="font-family:'DejaVu Sans',sans-serif;font-weight:normal">∝</text>
<text x="379.50" y="858.30" font-size="22.0" fill="#e8141c" stroke="#e8141c" stroke-width="0.3" class="it">f</text>
<text x="394.00" y="854.90" font-size="14.8" fill="#e8141c" stroke="#e8141c" stroke-width="0.5">1.71</text>
<text x="389.70" y="887.50" font-size="22.0" text-anchor="middle" fill="#e8141c" stroke="#e8141c" stroke-width="0.3" >(above 80 kHz)</text>
<text transform="translate(234.40 965.50) scale(1.16 1)" font-size="24.5" fill="#1414d6" style="font-family:'DejaVu Sans',sans-serif;font-weight:normal">∝</text>
<text x="253.20" y="963.30" font-size="22.0" fill="#1414d6" stroke="#1414d6" stroke-width="0.3" class="it">f</text>
<text x="267.70" y="959.90" font-size="14.8" fill="#1414d6" stroke="#1414d6" stroke-width="0.5">1.83</text>
<text x="263.50" y="992.50" font-size="22.0" text-anchor="middle" fill="#1414d6" stroke="#1414d6" stroke-width="0.3" >(below 80 kHz)</text>
</g>
</svg>
</body></html>
